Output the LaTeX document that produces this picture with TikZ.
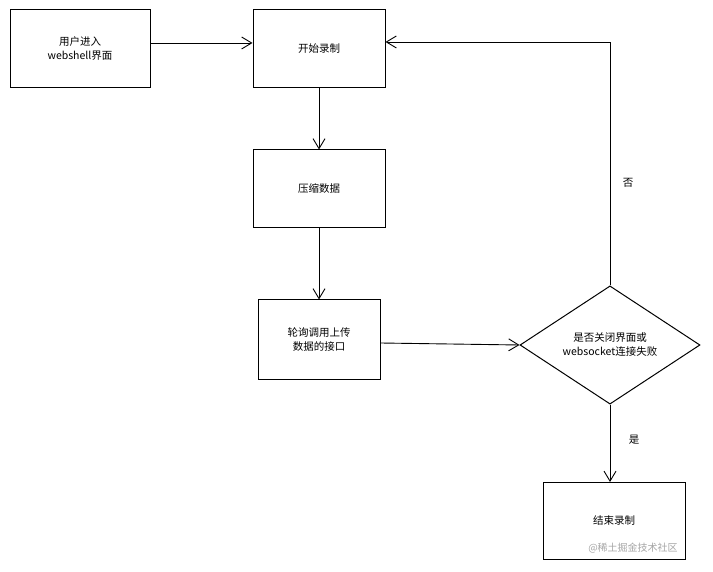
\documentclass[tikz,border=0pt]{standalone}
\usepackage{fontspec}
\setmainfont{Noto Sans CJK SC}
\usetikzlibrary{arrows.meta,shapes.geometric}
\begin{document}
\begin{tikzpicture}[x=1pt,y=-1pt,
  box/.style={draw,line width=1pt,inner sep=0pt,align=center,font=\fontsize{10.5}{14}\selectfont},
  arr/.style={-{Straight Barb[length=10pt,width=12pt]},line width=0.9pt},
  lbl/.style={font=\fontsize{10.5}{14}\selectfont}]
\useasboundingbox[fill=white] (0,0) rectangle (713,572);
\node[box,minimum width=140pt,minimum height=78pt] (a) at (80,49) {用户进入\\webshell界面};
\node[box,minimum width=132pt,minimum height=78pt] (b) at (319,49) {开始录制};
\node[box,minimum width=132pt,minimum height=78pt] (c) at (319,189) {压缩数据};
\node[box,minimum width=122pt,minimum height=80pt] (d) at (319,340) {轮询调用上传\\数据的接口};
\node[draw,line width=1pt,diamond,minimum width=180pt,minimum height=115pt,inner sep=0pt,align=center,font=\fontsize{10.5}{14}\selectfont] (e) at (610,345) {是否关闭界面或\\websocket连接失败};
\node[box,minimum width=142pt,minimum height=77pt] (f) at (614,521) {结束录制};
\coordinate (k) at (610,42);
\draw[arr] (a.east |- 0,43) -- (b.west |- 0,43);
\draw[arr] (b.south) -- (c.north);
\draw[arr] (c.south) -- (d.north);
\draw[arr] (d.east |- 0,343) -- (e.west);
\draw[arr] (e.north) -- (k) -- (b.east |- k);
\draw[arr] (e.south) -- (e.south |- f.north);
\node[lbl] (no) at (628,183) {否};
\node[lbl] (yes) at (634,440) {是};
\node[font=\fontsize{10}{12}\selectfont,text=gray!70] (wm) at (633,548) {@稀土掘金技术社区};
\end{tikzpicture}
\end{document}
